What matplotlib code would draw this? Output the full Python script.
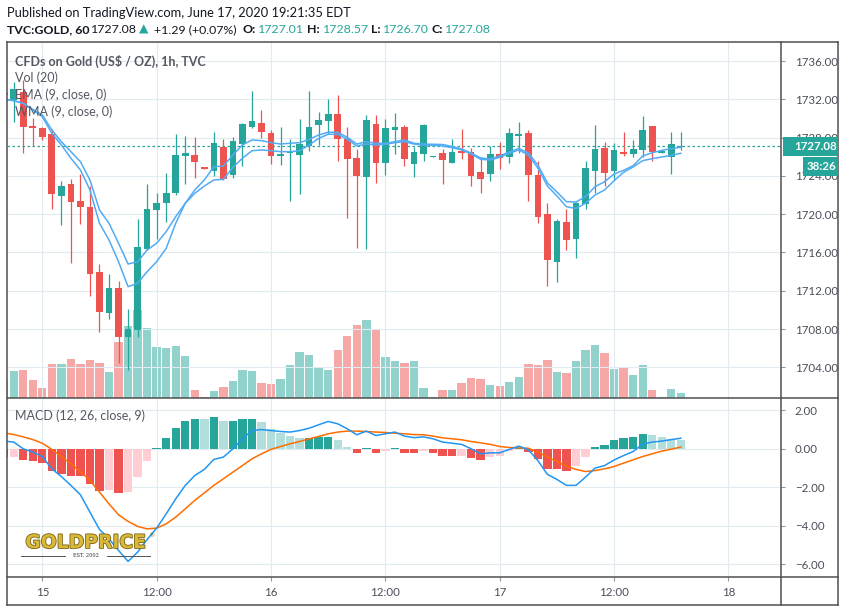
import matplotlib
matplotlib.use("Agg")
import matplotlib.pyplot as plt
from matplotlib.lines import Line2D
from matplotlib.patches import Rectangle
import matplotlib.patheffects as pe
import numpy as np

plt.rcParams['font.family'] = ['Lato', 'DejaVu Sans']

# ---------------- data (hours after 15 Jun 2020 00:00) ----------------
hours = list(range(-4, 68))

opens = [1732.70,
         1731.93, 1732.80, 1729.21, 1728.97, 1728.38, 1721.90, 1723.15, 1721.38, 1720.78, 1713.96,
         1709.71, 1712.29, 1707.20, 1707.93, 1716.36, 1720.44, 1721.17, 1722.24, 1726.11, 1726.18,
         1724.90, 1724.54, 1727.05, 1724.13, 1727.37, 1729.14, 1729.53, 1728.48, 1726.11, 1726.34,
         1726.22, 1727.09, 1729.35, 1729.74, 1730.47, 1727.86, 1725.87, 1723.92, 1729.42, 1725.38,
         1728.80, 1729.11, 1725.28, 1726.32, 1726.00, 1726.39, 1725.38, 1726.57, 1726.50, 1724.41,
         1724.20, 1726.29, 1725.98, 1728.20, 1728.48, 1724.09, 1720.02, 1715.00, 1719.18, 1717.41,
         1721.06, 1724.51, 1726.92, 1724.51, 1726.50, 1726.29, 1726.71, 1729.21, 1726.45, 1725.98, 1727.01]
highs = [1732.90,
         1733.84, 1734.02, 1730.08, 1729.14, 1728.87, 1723.47, 1723.68, 1724.23, 1722.94, 1714.79,
         1713.75, 1713.02, 1710.09, 1719.50, 1723.12, 1722.18, 1724.30, 1728.38, 1728.17, 1728.07,
         1724.95, 1728.59, 1727.86, 1728.10, 1729.53, 1732.87, 1730.89, 1728.80, 1729.11, 1727.86,
         1729.95, 1732.87, 1730.68, 1732.04, 1732.45, 1729.11, 1726.81, 1730.36, 1730.36, 1729.95,
         1730.57, 1729.32, 1727.02, 1729.40, 1726.08, 1726.81, 1727.86, 1728.90, 1726.92, 1725.98,
         1727.12, 1727.54, 1729.00, 1729.63, 1728.80, 1725.56, 1721.17, 1719.50, 1720.54, 1721.25,
         1725.56, 1729.32, 1727.54, 1727.44, 1728.59, 1727.75, 1730.26, 1729.25, 1726.60, 1728.59, 1728.57]
lows = [1732.20,
        1729.66, 1726.42, 1727.16, 1727.75, 1720.57, 1718.87, 1714.93, 1718.97, 1711.48, 1707.72,
        1709.08, 1704.48, 1703.72, 1707.20, 1716.30, 1717.41, 1719.21, 1722.04, 1723.19, 1723.77,
        1724.70, 1724.02, 1723.60, 1723.78, 1725.07, 1729.04, 1727.99, 1725.27, 1725.17, 1721.41,
        1722.14, 1726.63, 1727.20, 1728.41, 1725.59, 1719.63, 1716.50, 1716.39, 1723.29, 1724.09,
        1726.32, 1725.07, 1723.92, 1725.59, 1725.98, 1723.19, 1725.30, 1725.77, 1722.94, 1722.21,
        1723.47, 1724.72, 1725.35, 1726.39, 1721.38, 1719.11, 1712.53, 1712.94, 1716.26, 1715.42,
        1720.54, 1722.21, 1722.94, 1723.57, 1726.08, 1725.98, 1725.98, 1725.56, 1726.40, 1724.20, 1726.70]
closes = [1732.40,
          1733.08, 1729.14, 1729.04, 1728.10, 1722.11, 1722.94, 1721.27, 1720.78, 1713.78, 1709.81,
          1712.29, 1707.20, 1708.00, 1716.57, 1720.54, 1721.17, 1722.21, 1726.18, 1726.39, 1725.48,
          1724.75, 1727.44, 1723.68, 1727.65, 1729.42, 1729.74, 1728.62, 1726.11, 1726.29, 1726.48,
          1727.33, 1729.11, 1729.84, 1730.47, 1727.86, 1725.77, 1723.99, 1729.84, 1725.38, 1729.00,
          1729.11, 1725.77, 1726.50, 1729.32, 1726.05, 1725.66, 1726.50, 1726.42, 1723.99, 1723.68,
          1726.29, 1725.87, 1728.48, 1728.38, 1724.09, 1719.74, 1715.21, 1719.29, 1717.30, 1721.17,
          1724.83, 1726.81, 1724.30, 1726.71, 1726.32, 1726.81, 1728.80, 1726.50, 1726.55, 1727.33, 1727.08]
volumes = [1800,
           2700, 2800, 1800, 1000, 3400, 3400, 3900, 3400, 3800, 3500,
           2600, 5600, 7200, 8800, 7000, 5100, 5000, 5200, 4200, 800,
           100, 700, 1100, 1700, 2800, 2700, 1500, 1400, 1900, 3300,
           4600, 4300, 3100, 2800, 4800, 6200, 7300, 7800, 6800, 4100,
           3700, 3500, 3700, 1000, 100, 800, 800, 1500, 2000, 1900,
           1300, 1200, 1600, 2100, 3400, 3300, 3800, 2600, 2500, 3700,
           4800, 5300, 4500, 2900, 3000, 2300, 3300, 800, 100, 900, 500]
ema9 = [1732.00,
        1731.86, 1731.59, 1730.96, 1730.36, 1728.80, 1727.57, 1726.53, 1725.48, 1723.57, 1720.44,
        1719.05, 1716.96, 1714.79, 1715.03, 1716.26, 1716.96, 1718.17, 1719.74, 1721.14, 1722.18,
        1722.94, 1723.57, 1723.64, 1724.90, 1725.84, 1726.63, 1726.71, 1726.63, 1726.53, 1726.53,
        1726.63, 1727.23, 1727.93, 1728.35, 1728.35, 1727.82, 1727.12, 1727.33, 1727.23, 1727.30,
        1727.47, 1727.57, 1727.33, 1727.23, 1727.20, 1727.12, 1726.95, 1726.71, 1726.29, 1725.73,
        1725.66, 1725.94, 1726.36, 1726.71, 1726.18, 1724.82, 1722.94, 1721.90, 1720.78, 1720.59,
        1721.14, 1722.00, 1722.53, 1723.50, 1724.38, 1724.93, 1725.59, 1725.80, 1725.97, 1726.15, 1726.36]
wma9 = [1732.00,
        1731.86, 1731.59, 1730.89, 1730.19, 1728.45, 1727.23, 1725.84, 1724.62, 1722.53, 1719.05,
        1717.30, 1715.03, 1712.42, 1712.78, 1713.99, 1715.03, 1716.43, 1719.05, 1721.14, 1722.53,
        1723.57, 1724.96, 1725.03, 1726.18, 1727.23, 1727.75, 1727.68, 1727.47, 1727.33, 1727.41,
        1727.47, 1727.82, 1728.27, 1728.56, 1728.56, 1728.03, 1727.33, 1727.57, 1727.41, 1727.41,
        1727.57, 1727.75, 1727.41, 1727.33, 1727.30, 1727.28, 1727.07, 1726.81, 1726.39, 1725.87,
        1725.77, 1726.08, 1726.50, 1726.86, 1726.39, 1725.14, 1723.26, 1722.32, 1721.30, 1721.27,
        1721.83, 1722.87, 1723.39, 1724.20, 1724.58, 1725.07, 1726.08, 1726.42, 1726.67, 1726.84, 1726.99]
macd_line = [0.40,
             0.35, 0.00, -0.17, -0.40, -1.04, -1.44, -1.90, -2.39, -3.29, -4.19,
             -4.68, -5.28, -5.85, -5.37, -4.71, -4.12, -3.38, -2.60, -1.90, -1.39,
             -1.07, -0.55, -0.43, 0.00, 0.52, 0.95, 1.00, 0.95, 0.90, 0.87,
             0.95, 1.07, 1.25, 1.42, 1.30, 1.04, 0.73, 0.92, 0.69, 0.78,
             0.87, 0.66, 0.58, 0.62, 0.52, 0.35, 0.29, 0.23, 0.00, -0.26,
             -0.21, -0.21, -0.03, 0.14, -0.05, -0.61, -1.33, -1.59, -1.90, -1.90,
             -1.47, -1.00, -0.87, -0.58, -0.35, -0.14, 0.25, 0.35, 0.40, 0.48, 0.55]
signal_line = [0.83,
               0.74, 0.62, 0.48, 0.29, -0.03, -0.40, -0.78, -1.18, -1.64, -2.25,
               -2.86, -3.43, -3.77, -4.03, -4.16, -4.12, -3.90, -3.55, -3.12, -2.68,
               -2.29, -1.90, -1.56, -1.21, -0.87, -0.52, -0.26, -0.03, 0.12, 0.26,
               0.38, 0.52, 0.64, 0.78, 0.87, 0.92, 0.92, 0.90, 0.87, 0.85,
               0.81, 0.78, 0.74, 0.73, 0.66, 0.57, 0.52, 0.47, 0.38, 0.31,
               0.23, 0.12, 0.07, 0.05, 0.03, -0.17, -0.43, -0.66, -0.90, -1.07,
               -1.18, -1.13, -1.04, -0.92, -0.74, -0.57, -0.40, -0.26, -0.12, -0.02, 0.09]
macd_hist = [-0.45,
             -0.41, -0.58, -0.62, -0.72, -1.14, -1.31, -1.41, -1.42, -1.83, -2.19,
             -2.14, -2.30, -2.24, -1.45, -0.62, 0.02, 0.56, 1.10, 1.46, 1.57,
             1.55, 1.63, 1.44, 1.45, 1.53, 1.54, 1.38, 1.05, 0.81, 0.65,
             0.55, 0.58, 0.59, 0.60, 0.44, 0.12, -0.21, 0.02, -0.21, -0.10,
             0.02, -0.20, -0.21, -0.12, -0.23, -0.36, -0.37, -0.35, -0.47, -0.56,
             -0.40, -0.35, -0.10, 0.02, -0.17, -0.55, -1.06, -1.07, -1.13, -0.88,
             -0.40, 0.07, 0.18, 0.44, 0.54, 0.59, 0.75, 0.70, 0.59, 0.52, 0.48]

time_ticks = [0, 12, 24, 36, 48, 60, 72]
time_labels = ['15', '12:00', '16', '12:00', '17', '12:00', '18']
price_ticks = [1704, 1708, 1712, 1716, 1720, 1724, 1728, 1732, 1736]
macd_ticks = [2, 0, -2, -4, -6]
last_price = 1727.08
countdown = '38:26'

header_line1 = "Published on TradingView.com, June 17, 2020 19:21:35 EDT"
header_parts = [("TVC:GOLD, 60", 'bold', 'k'), ("1727.08", 'normal', 'k'), ("\u25B2", 'normal', 't'),
                ("+1.29 (+0.07%)", 'normal', 'k'), ("O:", 'bold', 'k'), ("1727.01", 'normal', 't'),
                ("H:", 'bold', 'k'), ("1728.57", 'normal', 't'), ("L:", 'bold', 'k'),
                ("1726.70", 'normal', 't'), ("C:", 'bold', 'k'), ("1727.08", 'normal', 't')]
header_x = [7, 90.5, 139, 154, 242.5, 258, 307, 322.5, 371.5, 382.5, 432, 445]

# ---------------- style ----------------
UP, DN = '#26A69A', '#EF5350'
GRID = '#E1ECF2'
TXT = '#4A4E59'
FRAME = '#505050'
W, H = 845, 612

fig = plt.figure(figsize=(W / 100, H / 100), dpi=100)
fig.patch.set_facecolor('white')


def rect(x0, y0, x1, y1):
    return [x0 / W, 1 - y1 / H, (x1 - x0) / W, (y1 - y0) / H]


ax = fig.add_axes(rect(7, 42, 780.7, 398))
axv = ax.twinx()
axm = fig.add_axes(rect(7, 398, 780.7, 577), sharex=ax)
ax.set_zorder(3)
axv.set_zorder(2)
ax.patch.set_visible(False)

h = np.array(hours, float)
o = np.array(opens)
c = np.array(closes)
hi = np.array(highs)
lo = np.array(lows)
up = c >= o
cols = np.where(up, UP, DN)

# volume
vcols = [(0.149, 0.651, 0.604, 0.5) if u else (0.937, 0.325, 0.314, 0.5) for u in up]
axv.bar(h, volumes, width=0.88, color=vcols, linewidth=0, zorder=1)
axv.set_ylim(0, 35600)
axv.set_yticks([])
for s in axv.spines.values():
    s.set_visible(False)

# price grid, candles, MAs
ax.set_xlim(-3.704, 77.48)
ax.set_ylim(1700.79, 1737.99)
for t in price_ticks:
    ax.axhline(t, color=GRID, lw=0.8, zorder=0)
for t in time_ticks:
    ax.axvline(t, color=GRID, lw=0.8, zorder=0)
ax.axhline(last_price, color=UP, lw=0.9, ls=(0, (2, 2)), zorder=2)
ax.vlines(h, lo, hi, colors=cols, lw=0.9, zorder=3)
mid = (o + c) / 2
bh = np.maximum(np.abs(c - o), 0.13)
ax.bar(h, bh, bottom=mid - bh / 2, width=0.7, color=cols, linewidth=0, zorder=4)
ax.plot(h, ema9, color='#52ABF3', lw=1.1, zorder=5)
ax.plot(h, wma9, color='#52ABF3', lw=1.1, zorder=5)

ax.yaxis.tick_right()
ax.set_yticks(price_ticks)
ax.set_yticklabels([f"{t:.2f}" for t in price_ticks])
ax.tick_params(axis='y', length=3, width=0.8, color='#9598A1', pad=7.2, labelsize=8.3, labelcolor=TXT)
ax.tick_params(axis='x', length=0, labelbottom=False)
ax.set_xticks(time_ticks)
for s in ax.spines.values():
    s.set_visible(False)

# MACD
hist = np.array(macd_hist)
prev = np.concatenate([[hist[0]], hist[:-1]])
hcols = []
for v, p in zip(hist, prev):
    if v >= 0:
        hcols.append('#26A69A' if v >= p else '#B2DFDB')
    else:
        hcols.append('#FFCDD2' if v > p else '#EF5350')
axm.set_ylim(-6.66, 2.64)
for t in macd_ticks:
    axm.axhline(t, color=GRID, lw=0.8, zorder=0)
for t in time_ticks:
    axm.axvline(t, color=GRID, lw=0.8, zorder=0)
axm.bar(h, hist, width=0.88, color=hcols, linewidth=0, zorder=2)
axm.plot(h, macd_line, color='#2196F3', lw=1.1, zorder=4)
axm.plot(h, signal_line, color='#FF6D00', lw=1.1, zorder=3)
axm.yaxis.tick_right()
axm.set_yticks(macd_ticks)
axm.set_yticklabels([f"{t:.2f}".replace('-', '\u2212') for t in macd_ticks])
axm.tick_params(axis='y', length=3, width=0.8, color='#9598A1', pad=7.2, labelsize=8.3, labelcolor=TXT)
axm.set_xticks(time_ticks)
axm.set_xticklabels(time_labels)
axm.tick_params(axis='x', length=3, width=0.8, color='#9598A1', pad=4.5, labelsize=8.3, labelcolor=TXT)
for s in axm.spines.values():
    s.set_visible(False)


# frame lines (pixel layout)
def fline(x0, y0, x1, y1):
    fig.add_artist(Line2D([x0 / W, x1 / W], [1 - y0 / H, 1 - y1 / H], color=FRAME, lw=1.1,
                          transform=fig.transFigure, zorder=10))


fline(7, 42, 838, 42)
fline(7, 605, 838, 605)
fline(7, 42, 7, 605)
fline(838, 42, 838, 605)
fline(780.7, 42, 780.7, 605)
fline(7, 398, 838, 398)
fline(7, 577, 838, 577)

# header
fig.text(7 / W, 1 - 13 / H, header_line1, fontsize=9.3, color='#131722', va='center', ha='left')
for (txt, wt, cc), xp in zip(header_parts, header_x):
    fig.text(xp / W, 1 - 29.5 / H, txt, fontsize=8.9, fontweight=wt,
             color='#131722' if cc == 'k' else UP, va='center', ha='left')

# in-pane legends
leg = [("CFDs on Gold (US$ / OZ), 1h, TVC", 61, 'bold'), ("Vol (20)", 78, 'normal'),
       ("EMA (9, close, 0)", 95, 'normal'), ("WMA (9, close, 0)", 111.5, 'normal'),
       ("MACD (12, 26, close, 9)", 416, 'normal')]
for txt, yp, wt in leg:
    fig.text(15 / W, 1 - yp / H, txt, fontsize=9, fontweight=wt, color='#555862',
             va='center', ha='left', zorder=12)

# last price label + countdown
fig.canvas.draw()
ypix = ax.transData.transform((0, last_price))[1]  # display coords (bottom origin)
box_h = 18.5
fig.add_artist(Rectangle((783.5 / W, (ypix - box_h / 2) / H), (838 - 783.5) / W, box_h / H,
                         transform=fig.transFigure, facecolor=UP, edgecolor='none', zorder=11))
fig.text(794 / W, ypix / H, f"{last_price:.2f}", transform=fig.transFigure, color='white',
         fontsize=8.3, fontweight='bold', va='center', ha='left', zorder=12)
cy = ypix - box_h / 2 - 1.5 - box_h / 2
fig.add_artist(Rectangle((802.6 / W, (cy - box_h / 2) / H), (838 - 802.6) / W, box_h / H,
                         transform=fig.transFigure, facecolor=UP, edgecolor='none', zorder=11))
fig.text(807 / W, cy / H, countdown, transform=fig.transFigure, color='white',
         fontsize=8.3, fontweight='bold', va='center', ha='left', zorder=12)

# GOLDPRICE logo
fig.text(85.7 / W, 1 - 542.5 / H, "GOLDPRICE", fontsize=13.5, fontweight='bold',
         family=['DejaVu Sans'], color='#D9B93A', va='center', ha='center', zorder=12,
         path_effects=[pe.withStroke(linewidth=1.2, foreground='#7A6210')])
fig.text(152 / W, 1 - 536 / H, "\u00AE", fontsize=4, color='#7A6210', va='center', ha='center', zorder=12)
fig.add_artist(Line2D([20.7 / W, 65 / W], [1 - 555.5 / H] * 2, color='#555555', lw=0.7,
                      transform=fig.transFigure, zorder=12))
fig.add_artist(Line2D([106.7 / W, 150 / W], [1 - 555.5 / H] * 2, color='#555555', lw=0.7,
                      transform=fig.transFigure, zorder=12))
fig.text(86 / W, 1 - 555.5 / H, "EST. 2002", fontsize=3.6, family=['DejaVu Serif'], color='#333333',
         va='center', ha='center', zorder=12)

fig.savefig('out.png', dpi=100, facecolor='white')
